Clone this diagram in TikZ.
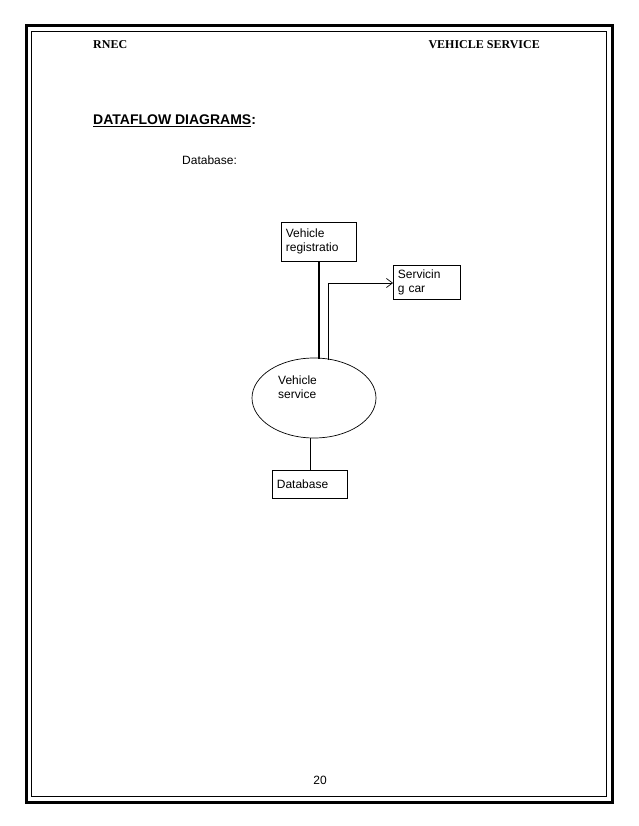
\documentclass[tikz,border=0pt]{standalone}
\usepackage{fontspec}
\setmainfont{Liberation Sans}
\newfontfamily\timesf{Liberation Serif}
\usetikzlibrary{arrows.meta,shapes.geometric}
\begin{document}
\begin{tikzpicture}[x=1pt,y=-1pt,
  box/.style={draw,line width=0.7pt,minimum width=75pt,inner sep=3pt,align=left,font=\fontsize{12}{14}\selectfont,anchor=north west},
  txt/.style={inner sep=0pt,font=\fontsize{12}{14}\selectfont}]
\useasboundingbox (0,0) rectangle (638,826);
\draw[line width=3pt] (26,26) rectangle (612,802);
\draw[line width=0.8pt] (31.5,31.5) rectangle (606.5,796.5);
\node[inner sep=0pt,anchor=west,font=\timesf\bfseries\fontsize{12}{14}\selectfont] (rnec) at (93,45) {RNEC};
\node[inner sep=0pt,anchor=east,font=\timesf\bfseries\fontsize{12}{14}\selectfont] (vs) at (540,45) {VEHICLE SERVICE};
\node[inner sep=0pt,anchor=west,font=\bfseries\fontsize{14}{16}\selectfont] (title) at (93,121) {\underline{DATAFLOW DIAGRAMS}:};
\node[txt,anchor=west] (dbl) at (182,160) {Database:};
\node[box,minimum width=75pt,minimum height=39pt,text width=66pt] (reg) at (281,222) {Vehicle\\registratio};
\node[box,minimum width=67pt,minimum height=34pt,text width=58pt] (srv) at (393,265) {Servicin\\g car};
\node[draw,line width=0.7pt,ellipse,minimum width=124pt,minimum height=80pt] (vsv) at (314,398) {};
\node[txt,align=left,anchor=north west] (vst) at (278,376) {Vehicle\\service};
\node[box,minimum width=75pt,minimum height=28pt,text width=66pt,anchor=north west] (db) at (272,470) {Database};
\draw[line width=1.6pt] (reg.south -| 319,0) -- (319,359);
\draw[line width=0.7pt,-{Straight Barb[length=6pt,width=9pt]}] (328,360) -- (328,283) -- (srv.west |- 0,283);
\draw[line width=0.7pt] (vsv.south -| 310,0) -- (db.north -| 310,0);
\node[txt] (pg) at (320,780) {20};
\end{tikzpicture}
\end{document}
